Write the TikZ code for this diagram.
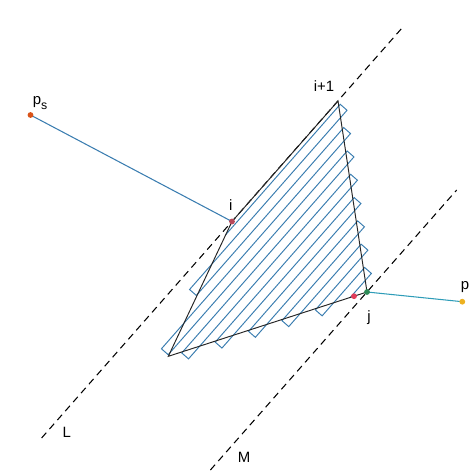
\documentclass[tikz,border=0pt]{standalone}
\usepackage{fontspec}
\setmainfont{Liberation Sans}
\usetikzlibrary{positioning}

\definecolor{lineblue}{HTML}{3A7DB0}
\definecolor{linecyan}{HTML}{2E9CB8}
\definecolor{dotorange}{HTML}{D95319}
\definecolor{dotyellow}{HTML}{EDB120}
\definecolor{dotred}{HTML}{B8485A}
\definecolor{dotpink}{HTML}{E23C5A}
\definecolor{dotgreen}{HTML}{2E8B57}

\tikzset{
    dot/.style={circle, inner sep=0pt, minimum size=3.3pt},
    lbl/.style={font=\fontsize{8.5}{10}\selectfont, inner sep=1pt},
    guide/.style={dash pattern=on 4pt off 2.8pt, line width=0.6pt},
    polyedge/.style={black!85, line width=0.55pt},
    hatch/.style={lineblue, line width=0.55pt, line join=miter},
    link/.style={line width=0.6pt}
}

\begin{document}
\begin{tikzpicture}[x=0.02cm, y=0.02cm]
        \useasboundingbox (0,0) rectangle (474,-474);

        % Polygon corners and points
        \coordinate (i) at (232,-221.5);
        \coordinate (i1) at (338,-101);
        \coordinate (j) at (367,-292);
        \coordinate (b) at (168.3,-356.3);
        \coordinate (r) at (354,-296.2);
        \coordinate (ps) at (30.5,-115);
        \coordinate (p) at (462.3,-301.7);

        % Lines L and M
        \coordinate (L1) at (41.6,-438);
        \coordinate (L2) at (402,-28);
        \coordinate (M1) at (210.4,-470);
        \coordinate (M2) at (456.7,-190);
        \draw[guide] (L1) -- (L2);
        \draw[guide] (M1) -- (M2);

        % Sweep path
        \begin{scope}[shift={(i)}, rotate=48.7]
            \draw[hatch] (-14,-4) -- (159.5,-4) -- (159.5,-13) -- (-79.1,-13)
                -- (-79.1,-22) -- (144.3,-22) -- (144.3,-31) -- (-142.2,-31)
                -- (-142.2,-40) -- (129,-40) -- (129,-49) -- (-131.9,-49)
                -- (-131.9,-58) -- (113.8,-58) -- (113.8,-67) -- (-101.7,-67)
                -- (-101.7,-76) -- (98.6,-76) -- (98.6,-85) -- (-71.6,-85)
                -- (-71.6,-94) -- (83.4,-94) -- (83.4,-103) -- (-41.5,-103)
                -- (-41.5,-112) -- (68.2,-112) -- (68.2,-121) -- (-11.4,-121)
                -- (-11.4,-130) -- (53,-130) -- (53,-139) -- (20.7,-139);
        \end{scope}

        % Polygon
        \draw[polyedge] (i) -- (i1) -- (j) -- (r) -- (b) -- cycle;

        % Links
        \draw[link, lineblue] (ps) -- (i);
        \draw[link, linecyan] (j) -- (p);

        % Dots
        \node[dot, fill=dotorange] (psd) at (ps) {};
        \node[dot, fill=dotred] (id) at (i) {};
        \node[dot, fill=dotpink] (rd) at (r) {};
        \node[dot, fill=dotgreen] (jd) at (j) {};
        \node[dot, fill=dotyellow] (pd) at (p) {};

        % Labels
        \node[lbl] (lps) at (40,-103) {p\raisebox{-0.55ex}{\fontsize{7}{8}\selectfont s}};
        \node[lbl] (li) at (230.7,-205) {i};
        \node[lbl] (li1) at (324,-86) {i+1};
        \node[lbl] (lj) at (369,-318) {j};
        \node[lbl] (lp) at (465,-287) {p};
        \node[lbl] (lL) at (66.7,-432) {L};
        \node[lbl] (lM) at (244,-457) {M};
    \end{tikzpicture}
\end{document}
